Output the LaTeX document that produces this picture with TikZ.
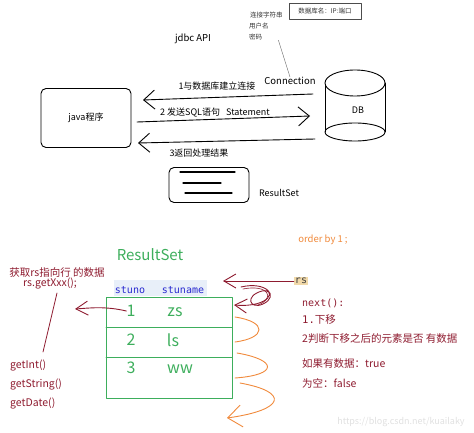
\documentclass[tikz,border=0pt]{standalone}
\usepackage{fontspec}
\setmainfont{Noto Sans CJK SC}
\setmonofont{DejaVu Sans Mono}
\usetikzlibrary{arrows.meta}
\definecolor{darkred}{HTML}{8E1B2F}
\definecolor{rsgreen}{HTML}{3DAE5C}
\definecolor{rsorange}{HTML}{F08A3C}
\definecolor{colblue}{HTML}{2828D0}
\definecolor{headbg}{HTML}{E8EFF9}
\definecolor{rsbg}{HTML}{F1D9A9}

\begin{document}
\begin{tikzpicture}[x=1pt, y=-1pt, line cap=round, line join=round,
	lbl/.style={font=\fontsize{9}{10}\selectfont, inner sep=0pt},
	tiny/.style={font=\fontsize{6.5}{7}\selectfont, inner sep=0pt, text=black!80},
	redtxt/.style={font=\fontsize{10.5}{12}\selectfont, text=darkred, inner sep=0pt, anchor=west},
	monotxt/.style={font=\ttfamily\fontsize{10}{12}\selectfont, inner sep=0pt},
	cell/.style={font=\fontsize{16}{18}\selectfont, text=rsgreen, inner sep=0pt},
	flow/.style={line width=0.9pt, -{Straight Barb[length=11pt, width=19pt, line width=0.9pt]}},
	redarrow/.style={darkred, line width=0.9pt, -{Straight Barb[length=12pt, width=14pt, line width=0.9pt]}}]
	\useasboundingbox (0,0) rectangle (474,433);
	% top part: java program talking to the database
	\node[tiny, anchor=west] (connstr) at (250,15) {连接字符串};
	\node[tiny, anchor=west] (user) at (249,26) {用户名};
	\node[tiny, anchor=west] (pwd) at (249,37) {密码};
	\node[tiny, draw=black!70, line width=0.5pt, inner sep=3pt, minimum width=72pt, minimum height=16pt] (dbname) at (325,11) {数据库名：IP:端口};
	\node[lbl, font=\fontsize{9.5}{10}\selectfont] (api) at (193,39) {jdbc API};
	\node[lbl, draw, line width=0.9pt, rounded corners=5pt, minimum width=90pt, minimum height=59pt] (java) at (86,118) {java程序};
	% database cylinder
	\draw[line width=0.9pt] (325,83) -- (325,132) (385,83) -- (385,132);
	\draw[line width=0.9pt, fill=white] (355,83) ellipse [x radius=30, y radius=13];
	\draw[line width=0.9pt] (355,132) ellipse [x radius=30, y radius=9];
	\node[lbl] (db) at (358,110) {DB};
	\node[lbl, font=\fontsize{9.5}{10}\selectfont] (conn) at (290,81) {Connection};
	\draw[black!60, line width=0.4pt] (pwd.south east) ++(16,0) coordinate (p1) -- (conn.north) ++(3,0);
	\coordinate (a1s) at (313,94); \coordinate (a1e) at (143,100);
	\coordinate (a2s) at (137,122); \coordinate (a2e) at (310,116);
	\coordinate (a3s) at (315,139); \coordinate (a3e) at (138,143);
	\draw[flow] (a1s) -- (a1e);
	\draw[flow] (a2s) -- (a2e);
	\draw[flow] (a3s) -- (a3e);
	\node[lbl] (step1) at (217,86) {1与数据库建立连接};
	\node[lbl] (step2) at (215,113) {2 发送SQL语句\hspace{6pt}Statement};
	\node[lbl] (step3) at (199,153) {3返回处理结果};
	% result set icon
	\node[draw, line width=0.9pt, rounded corners=5pt, minimum width=80pt, minimum height=35pt] (icon) at (209,185) {};
	\draw[line width=1.3pt] (180,172) -- (235,172) (183,183) -- (221,183) (185,193) -- (232,193);
	\node[lbl] (rslbl) at (279,193) {ResultSet};
	% bottom part: walking through the result set
	\node[lbl, text=rsorange, font=\fontsize{9.5}{10}\selectfont] (order) at (323,240) {order by 1 ;};
	\node[cell, font=\fontsize{15}{18}\selectfont] (rstitle) at (150,255) {ResultSet};
	\node[redtxt, anchor=center] (fetch) at (57,273) {获取rs指向行 的数据};
	\node[redtxt, anchor=center] (getxxx) at (50,284) {rs.getXxx();};
	\fill[headbg] (114,280) rectangle (207,296);
	\node[monotxt, text=colblue] (stuno) at (130,290) {stuno};
	\node[monotxt, text=colblue] (stuname) at (183,290) {stuname};
	\draw[rsgreen, line width=0.9pt] (106,297) rectangle (232,398) (106,327) -- (232,327) (106,357) -- (232,357);
	\node[cell] (id1) at (131,311) {1};
	\node[cell] (nm1) at (175,312) {zs};
	\node[cell] (id2) at (131,340) {2};
	\node[cell] (nm2) at (173,340) {ls};
	\node[cell] (id3) at (131,368) {3};
	\node[cell] (nm3) at (180,369) {ww};
	\node[redtxt] (getint) at (10,366) {getInt()};
	\node[redtxt] (getstr) at (10,385) {getString()};
	\node[redtxt] (getdate) at (10,404) {getDate()};
	\coordinate (gx) at (75,309);
	\draw[redarrow] (id1.west) .. controls (105,306) and (90,308) .. (gx);
	\coordinate (g1) at (57,293); \coordinate (g2) at (43,352);
	\draw[darkred, line width=0.8pt] (g1) -- (g2);
	% cursor rs
	\node[monotxt, fill=rsbg, inner sep=1pt, text=black!75] (rs) at (301,281) {rs};
	\coordinate (rsend) at (223,281);
	\draw[redarrow] (rs.west) -- (rsend);
	\coordinate (spin) at (234,305);
	\draw[redarrow] (241,287) .. controls (266,281) and (280,296) .. (263,304)
		.. controls (250,310) and (244,296) .. (262,291)
		.. controls (276,288) and (272,308) .. (spin);
	\draw[darkred, line width=0.6pt] (243,289) .. controls (268,284) and (276,298) .. (258,305);
	% next() moving down the rows
	\coordinate (w0) at (235,317); \coordinate (wend) at (227,418);
	\draw[rsorange, line width=0.9pt, -{Straight Barb[length=14pt, width=22pt, line width=0.9pt]}]
		(w0) .. controls (268,322) and (266,338) .. (235,342)
		(237,353) .. controls (278,360) and (278,375) .. (235,378)
		(240,383) .. controls (290,392) and (285,410) .. (wend);
	\node[monotxt, text=darkred, anchor=west] (next) at (302,303) {next():};
	\node[redtxt] (down) at (302,320) {\texttt{1.}下移};
	\node[redtxt] (check) at (302,339) {2判断下移之后的元素是否 有数据};
	\node[redtxt] (istrue) at (302,364) {如果有数据：true};
	\node[redtxt] (isfalse) at (302,383) {为空：false};
	\node[lbl, text=black!12] (mark) at (401,422) {https://blog.csdn.net/kuailaky};
\end{tikzpicture}
\end{document}
